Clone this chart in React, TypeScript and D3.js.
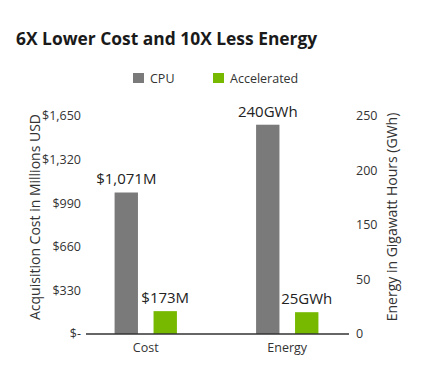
import React from "react";
import * as d3 from "d3";

const categories = ["Cost", "Energy"];
const seriesNames = ["CPU", "Accelerated"];
const cpuValues = [1071, 240];
const acceleratedValues = [173, 25];
const valueLabels = [["$1,071M", "$173M"], ["240GWh", "25GWh"]];
const leftTicks = [0, 330, 660, 990, 1320, 1650];
const leftTickLabels = ["$-", "$330", "$660", "$990", "$1,320", "$1,650"];
const rightTickPositions = [0, 62.5, 125, 187.5, 250];
const rightTickLabels = ["0", "50", "150", "200", "250"];
const colors = ["#7a7a7a", "#76b900"];

const W = 427, H = 382;
const FONT = "'Open Sans', 'Noto Sans', sans-serif";

export default function App() {
  const yTop = 116, yBase = 334;
  const yCost = d3.scaleLinear().domain([0, 1650]).range([yBase, yTop]);
  const yEnergy = d3.scaleLinear().domain([0, 250]).range([yBase, yTop]);
  const x0 = d3.scaleBand().domain(categories).range([75, 358]).padding(0);
  const x1 = d3.scaleBand().domain(seriesNames).range([24, 117.5]).padding(0.4);
  const scales = [yCost, yEnergy];
  const values = [cpuValues, acceleratedValues];

  return (
    <svg width={W} height={H} style={{ position: "absolute", left: 0, top: 0, background: "#fff" }}>
      <rect width={W} height={H} fill="#fff" />
      <text x={16} y={45} fontFamily={FONT} fontWeight={700} fontSize={17.4} fill="#1a1a1a">
        6X Lower Cost and 10X Less Energy
      </text>
      {seriesNames.map((s, i) => {
        const lx = [133, 213][i];
        return (
          <g key={s}>
            <rect x={lx} y={73} width={11} height={10} fill={colors[i]} />
            <text x={lx + 17} y={83} fontFamily={FONT} fontSize={12.5} fill="#333">{s}</text>
          </g>
        );
      })}
      {leftTicks.map((t, i) => (
        <text key={t} x={81} y={yCost(t)} dy="0.35em" textAnchor="end" fontFamily={FONT} fontSize={12.5} fill="#333">
          {leftTickLabels[i]}
        </text>
      ))}
      <text transform={`translate(40,217) rotate(-90)`} textAnchor="middle" fontFamily={FONT} fontSize={14} fill="#333">
        Acquisition Cost in Millions USD
      </text>
      {rightTickPositions.map((t, i) => (
        <text key={t} x={356} y={yEnergy(t)} dy="0.35em" textAnchor="start" fontFamily={FONT} fontSize={12.5} fill="#333">
          {rightTickLabels[i]}
        </text>
      ))}
      <text transform={`translate(397,217) rotate(-90)`} textAnchor="middle" fontFamily={FONT} fontSize={14} fill="#333">
        Energy in Gigawatt Hours (GWh)
      </text>
      {categories.map((c, ci) => (
        <g key={c} transform={`translate(${x0(c)},0)`}>
          {seriesNames.map((s, si) => {
            const v = values[si][ci];
            const y = scales[ci](v);
            const bx = x1(s)!;
            return (
              <g key={s}>
                <rect x={bx} y={y} width={x1.bandwidth()} height={yBase - y} fill={colors[si]} />
                <text x={bx + x1.bandwidth() / 2} y={y - 8} textAnchor="middle" fontFamily={FONT} fontSize={15} fill="#222">
                  {valueLabels[ci][si]}
                </text>
              </g>
            );
          })}
          <text x={x0.bandwidth() / 2} y={352} textAnchor="middle" fontFamily={FONT} fontSize={12.5} fill="#333">{c}</text>
        </g>
      ))}
      <line x1={86} x2={349} y1={yBase} y2={yBase} stroke="#333" strokeWidth={1.3} />
    </svg>
  );
}
